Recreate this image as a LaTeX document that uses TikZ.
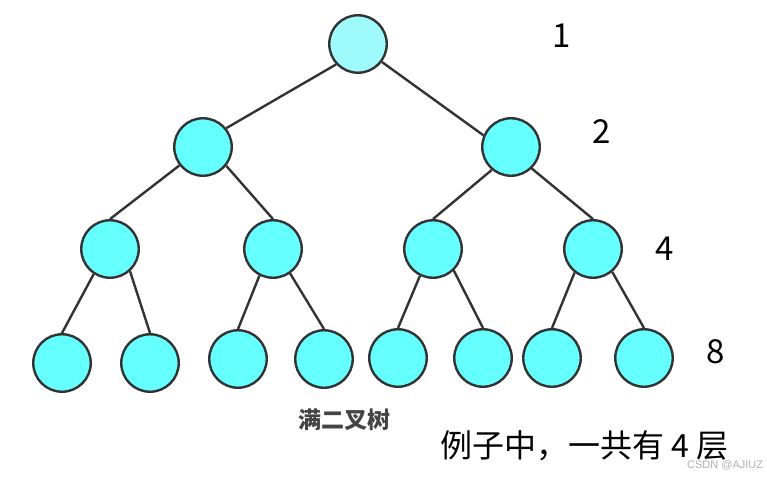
\documentclass[tikz,border=0pt]{standalone}
\usepackage{fontspec}
\newfontfamily\cjk{Noto Sans CJK SC}
\definecolor{nodec}{HTML}{66FFFF}
\definecolor{rootc}{HTML}{9FFBFB}
\definecolor{edgec}{HTML}{333333}
\definecolor{capc}{HTML}{444444}
\definecolor{wmc}{HTML}{B0B0B0}
\begin{document}
\begin{tikzpicture}[x=1pt,y=-1pt,
  tn/.style={circle,draw=edgec,line width=2.4pt,fill=nodec,minimum size=57.5pt,inner sep=0pt},
  ed/.style={draw=edgec,line width=2.4pt},
  lvl/.style={font=\cjk\fontsize{33}{36}\selectfont,text=black,inner sep=0pt}]
\useasboundingbox (0,0) rectangle (767,479);
% nodes
\node[tn,fill=rootc] (r) at (358,44) {};
\node[tn] (a) at (203,147) {};
\node[tn] (b) at (511,147) {};
\node[tn] (c) at (110,249) {};
\node[tn] (d) at (273,249) {};
\node[tn] (e) at (433,249) {};
\node[tn] (f) at (593,249) {};
\node[tn] (l1) at (62,363) {};
\node[tn] (l2) at (150,363) {};
\node[tn] (l3) at (238,359) {};
\node[tn] (l4) at (324,359) {};
\node[tn] (l5) at (398,358) {};
\node[tn] (l6) at (483,358) {};
\node[tn] (l7) at (552,358) {};
\node[tn] (l8) at (644,358) {};
% edges
\draw[ed] (r.223) -- (a.39);
\draw[ed] (r.323) -- (b.157);
\draw[ed] (a.218) -- (c.north);
\draw[ed] (a.321) -- (d.north);
\draw[ed] (b.230) -- (e.north);
\draw[ed] (b.314) -- (f.north);
\draw[ed] (c.237) -- (l1.north);
\draw[ed] (c.312) -- (l2.north);
\draw[ed] (d.243) -- (l3.north);
\draw[ed] (d.305) -- (l4.north);
\draw[ed] (e.244) -- (l5.north);
\draw[ed] (e.314) -- (l6.north);
\draw[ed] (f.232) -- (l7.north);
\draw[ed] (f.310) -- (l8.north);
% level counts
\node[lvl] (n1) at (562,36) {1};
\node[lvl] (n2) at (602,132) {2};
\node[lvl] (n4) at (665,249) {4};
\node[lvl] (n8) at (716,352) {8};
% captions
\node[font=\cjk\bfseries\fontsize{23}{26}\selectfont,text=capc,inner sep=0pt] (cap) at (344,420) {满二叉树};
\node[font=\cjk\fontsize{32}{36}\selectfont,text=black,inner sep=0pt,anchor=west] (txt) at (440,446) {例子中，一共有 4 层};
\node[font=\fontspec{Liberation Sans}\fontsize{11}{12}\selectfont,text=wmc,inner sep=0pt,anchor=west] (wm) at (687,465) {CSDN @AJIUZ};
\end{tikzpicture}
\end{document}
